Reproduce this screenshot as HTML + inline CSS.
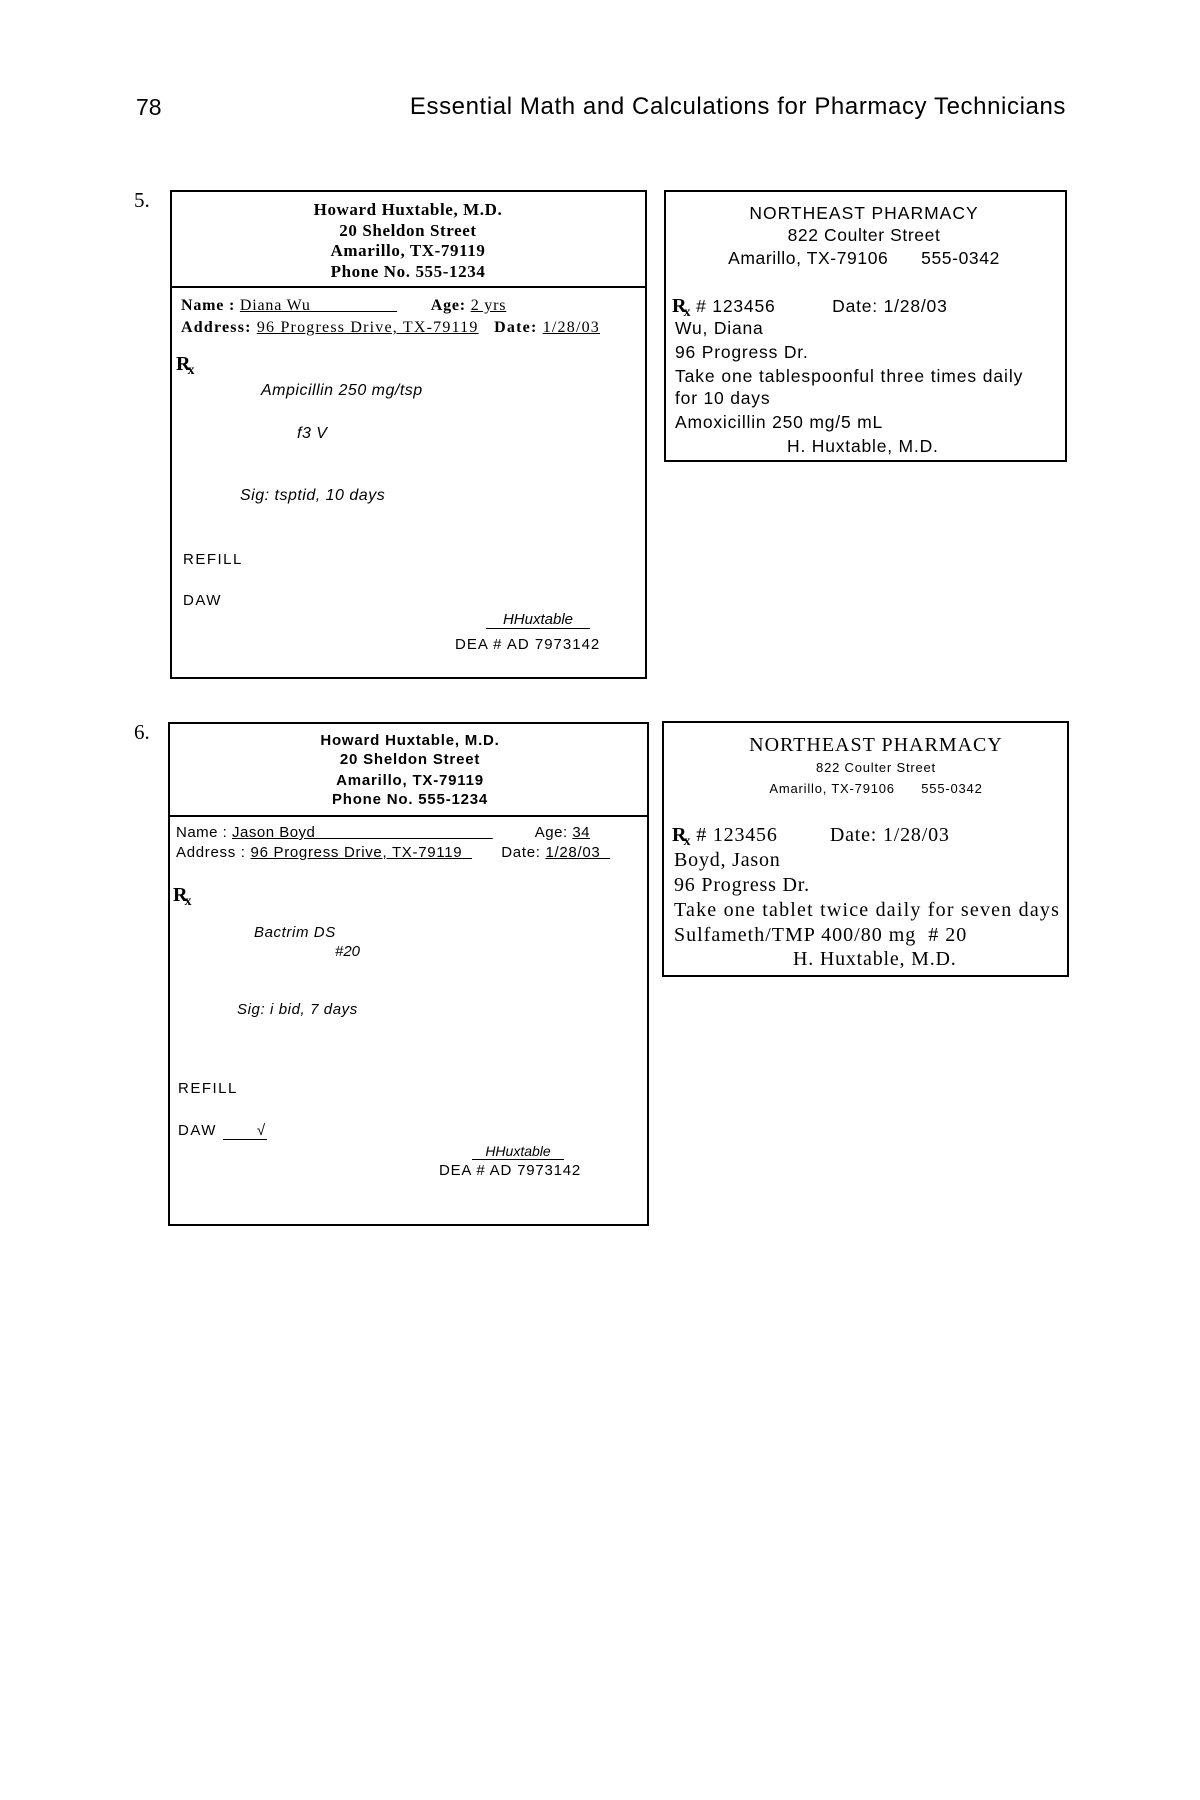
<!DOCTYPE html>
<html><head><meta charset="utf-8">
<style>
html,body{margin:0;padding:0;background:#fff;}
body{width:1200px;height:1800px;position:relative;overflow:hidden;font-family:"Liberation Sans",sans-serif;color:#000;}
.t{position:absolute;white-space:nowrap;line-height:20px;}
.c{transform:translateX(-50%);}
.box{position:absolute;border:2px solid #000;box-sizing:border-box;}
.ser{font-family:"Liberation Serif",serif;}
.b{font-weight:bold;}
.i{font-style:italic;}
u{text-decoration:underline;}
.rx{font-family:"Liberation Serif",serif;font-weight:bold;font-size:20px;letter-spacing:0;}
.rx sub{font-size:14px;vertical-align:-4px;margin-left:-3px;}
</style></head><body>

<div class="t" style="left:136px;top:97px;font-size:23px;">78</div>
<div class="t" style="right:134px;top:97px;font-size:24px;letter-spacing:0.6px;">Essential Math and Calculations for Pharmacy Technicians</div>

<!-- 5 -->
<div class="t ser" style="left:134px;top:190px;font-size:21px;">5.</div>
<div class="box" style="left:170px;top:190px;width:477px;height:489px;"></div>
<div style="position:absolute;left:170px;top:286px;width:477px;height:2px;background:#000"></div>
<div class="t c ser b" style="left:408px;top:200px;font-size:17px;letter-spacing:0.6px;">Howard Huxtable, M.D.</div>
<div class="t c ser b" style="left:408px;top:221px;font-size:17px;letter-spacing:0.6px;">20 Sheldon Street</div>
<div class="t c ser b" style="left:408px;top:241px;font-size:17px;letter-spacing:0.6px;">Amarillo, TX-79119</div>
<div class="t c ser b" style="left:408px;top:262px;font-size:17px;letter-spacing:0.6px;">Phone No. 555-1234</div>
<div class="t ser b" style="left:181px;top:296px;font-size:16px;letter-spacing:0.8px;">Name : <u style="font-weight:normal">Diana Wu&nbsp;&nbsp;&nbsp;&nbsp;&nbsp;&nbsp;&nbsp;&nbsp;&nbsp;&nbsp;&nbsp;&nbsp;&nbsp;&nbsp;&nbsp;&nbsp;&nbsp;&nbsp;</u>&nbsp;&nbsp;&nbsp;&nbsp;&nbsp;&nbsp;&nbsp;Age: <u style="font-weight:normal">2 yrs</u></div>
<div class="t ser b" style="left:181px;top:318px;font-size:16px;letter-spacing:1.2px;">Address: <u style="font-weight:normal">96 Progress Drive, TX-79119</u>&nbsp;&nbsp;&nbsp;Date: <u style="font-weight:normal">1/28/03</u></div>
<div class="t rx" style="left:176px;top:354px;">R<sub>x</sub></div>
<div class="t i" style="left:261px;top:381px;font-size:16px;letter-spacing:0.5px;">Ampicillin 250 mg/tsp</div>
<div class="t i" style="left:297px;top:424px;font-size:16px;letter-spacing:0.5px;">f3 V</div>
<div class="t i" style="left:240px;top:486px;font-size:16px;letter-spacing:0.5px;">Sig: tsptid, 10 days</div>
<div class="t" style="left:183px;top:550px;font-size:15px;letter-spacing:1.5px;">REFILL</div>
<div class="t" style="left:183px;top:591px;font-size:15px;letter-spacing:1.5px;">DAW</div>
<div class="t i" style="left:486px;top:612px;font-size:15px;width:104px;text-align:center;border-bottom:1.5px solid #000;line-height:16px;">HHuxtable</div>
<div class="t" style="left:455px;top:635px;font-size:15px;letter-spacing:1px;">DEA # AD 7973142</div>

<div class="box" style="left:664px;top:190px;width:403px;height:272px;"></div>
<div class="t c" style="left:864px;top:203px;font-size:17.5px;letter-spacing:1px;">NORTHEAST PHARMACY</div>
<div class="t c" style="left:864px;top:225px;font-size:17.5px;letter-spacing:0.6px;">822 Coulter Street</div>
<div class="t c" style="left:864px;top:248px;font-size:17.5px;letter-spacing:0.6px;">Amarillo, TX-79106&nbsp;&nbsp;&nbsp;&nbsp;&nbsp;&nbsp;555-0342</div>
<div class="t" style="left:672px;top:296px;font-size:17.5px;letter-spacing:0.8px;"><span class="rx">R<sub>x</sub></span> # 123456&nbsp;&nbsp;&nbsp;&nbsp;&nbsp;&nbsp;&nbsp;&nbsp;&nbsp;&nbsp;Date: 1/28/03</div>
<div class="t" style="left:675px;top:318px;font-size:17.5px;letter-spacing:0.8px;">Wu, Diana</div>
<div class="t" style="left:675px;top:342px;font-size:17.5px;letter-spacing:0.8px;">96 Progress Dr.</div>
<div class="t" style="left:675px;top:366px;font-size:17.5px;letter-spacing:0.9px;">Take one tablespoonful three times daily</div>
<div class="t" style="left:675px;top:388px;font-size:17.5px;letter-spacing:0.8px;">for 10 days</div>
<div class="t" style="left:675px;top:412px;font-size:17.5px;letter-spacing:0.8px;">Amoxicillin 250 mg/5 mL</div>
<div class="t" style="left:787px;top:436px;font-size:17.5px;letter-spacing:0.8px;">H. Huxtable, M.D.</div>

<!-- 6 -->
<div class="t ser" style="left:134px;top:722px;font-size:21px;">6.</div>
<div class="box" style="left:168px;top:722px;width:481px;height:504px;"></div>
<div style="position:absolute;left:168px;top:815px;width:481px;height:2px;background:#000"></div>
<div class="t c b" style="left:410px;top:731px;font-size:15px;letter-spacing:0.8px;">Howard Huxtable, M.D.</div>
<div class="t c b" style="left:410px;top:750px;font-size:15px;letter-spacing:0.8px;">20 Sheldon Street</div>
<div class="t c b" style="left:410px;top:771px;font-size:15px;letter-spacing:0.8px;">Amarillo, TX-79119</div>
<div class="t c b" style="left:410px;top:790px;font-size:15px;letter-spacing:0.8px;">Phone No. 555-1234</div>
<div class="t" style="left:176px;top:823px;font-size:15px;letter-spacing:0.5px;">Name : <u>Jason Boyd&nbsp;&nbsp;&nbsp;&nbsp;&nbsp;&nbsp;&nbsp;&nbsp;&nbsp;&nbsp;&nbsp;&nbsp;&nbsp;&nbsp;&nbsp;&nbsp;&nbsp;&nbsp;&nbsp;&nbsp;&nbsp;&nbsp;&nbsp;&nbsp;&nbsp;&nbsp;&nbsp;&nbsp;&nbsp;&nbsp;&nbsp;&nbsp;&nbsp;&nbsp;&nbsp;&nbsp;&nbsp;&nbsp;</u>&nbsp;&nbsp;&nbsp;&nbsp;&nbsp;&nbsp;&nbsp;&nbsp;&nbsp;Age: <u>34</u></div>
<div class="t" style="left:176px;top:843px;font-size:15px;letter-spacing:0.7px;">Address : <u>96 Progress Drive, TX-79119&nbsp;&nbsp;</u>&nbsp;&nbsp;&nbsp;&nbsp;&nbsp;&nbsp;Date: <u>1/28/03&nbsp;&nbsp;</u></div>
<div class="t rx" style="left:173px;top:885px;">R<sub>x</sub></div>
<div class="t i" style="left:254px;top:923px;font-size:15px;letter-spacing:0.6px;">Bactrim DS</div>
<div class="t i" style="left:335px;top:942px;font-size:15px;">#20</div>
<div class="t i" style="left:237px;top:1000px;font-size:15px;letter-spacing:0.6px;">Sig: i bid, 7 days</div>
<div class="t" style="left:178px;top:1079px;font-size:15px;letter-spacing:1.5px;">REFILL</div>
<div class="t" style="left:178px;top:1121px;font-size:15px;letter-spacing:1.5px;">DAW <span style="display:inline-block;width:44px;border-bottom:1.5px solid #000;text-align:right;line-height:16px;">√</span></div>
<div class="t i" style="left:472px;top:1143px;font-size:14px;width:92px;text-align:center;border-bottom:1.5px solid #000;line-height:16px;">HHuxtable</div>
<div class="t" style="left:439px;top:1161px;font-size:15px;letter-spacing:0.8px;">DEA # AD 7973142</div>

<div class="box" style="left:662px;top:721px;width:407px;height:256px;"></div>
<div class="t c ser" style="left:876px;top:735px;font-size:20px;letter-spacing:1px;">NORTHEAST PHARMACY</div>
<div class="t c" style="left:876px;top:758px;font-size:13px;letter-spacing:0.8px;">822 Coulter Street</div>
<div class="t c" style="left:876px;top:779px;font-size:13px;letter-spacing:0.8px;">Amarillo, TX-79106&nbsp;&nbsp;&nbsp;&nbsp;&nbsp;&nbsp;555-0342</div>
<div class="t ser" style="left:672px;top:825px;font-size:20px;letter-spacing:0.8px;"><span class="rx">R<sub>x</sub></span> # 123456&nbsp;&nbsp;&nbsp;&nbsp;&nbsp;&nbsp;&nbsp;&nbsp;&nbsp;Date: 1/28/03</div>
<div class="t ser" style="left:674px;top:850px;font-size:20px;letter-spacing:0.8px;">Boyd, Jason</div>
<div class="t ser" style="left:674px;top:875px;font-size:20px;letter-spacing:0.8px;">96 Progress Dr.</div>
<div class="t ser" style="left:674px;top:900px;font-size:20px;letter-spacing:1.2px;">Take one tablet twice daily for seven days</div>
<div class="t ser" style="left:674px;top:925px;font-size:20px;letter-spacing:1px;">Sulfameth/TMP 400/80 mg&nbsp; # 20</div>
<div class="t ser" style="left:793px;top:949px;font-size:20px;letter-spacing:0.8px;">H. Huxtable, M.D.</div>

</body></html>
